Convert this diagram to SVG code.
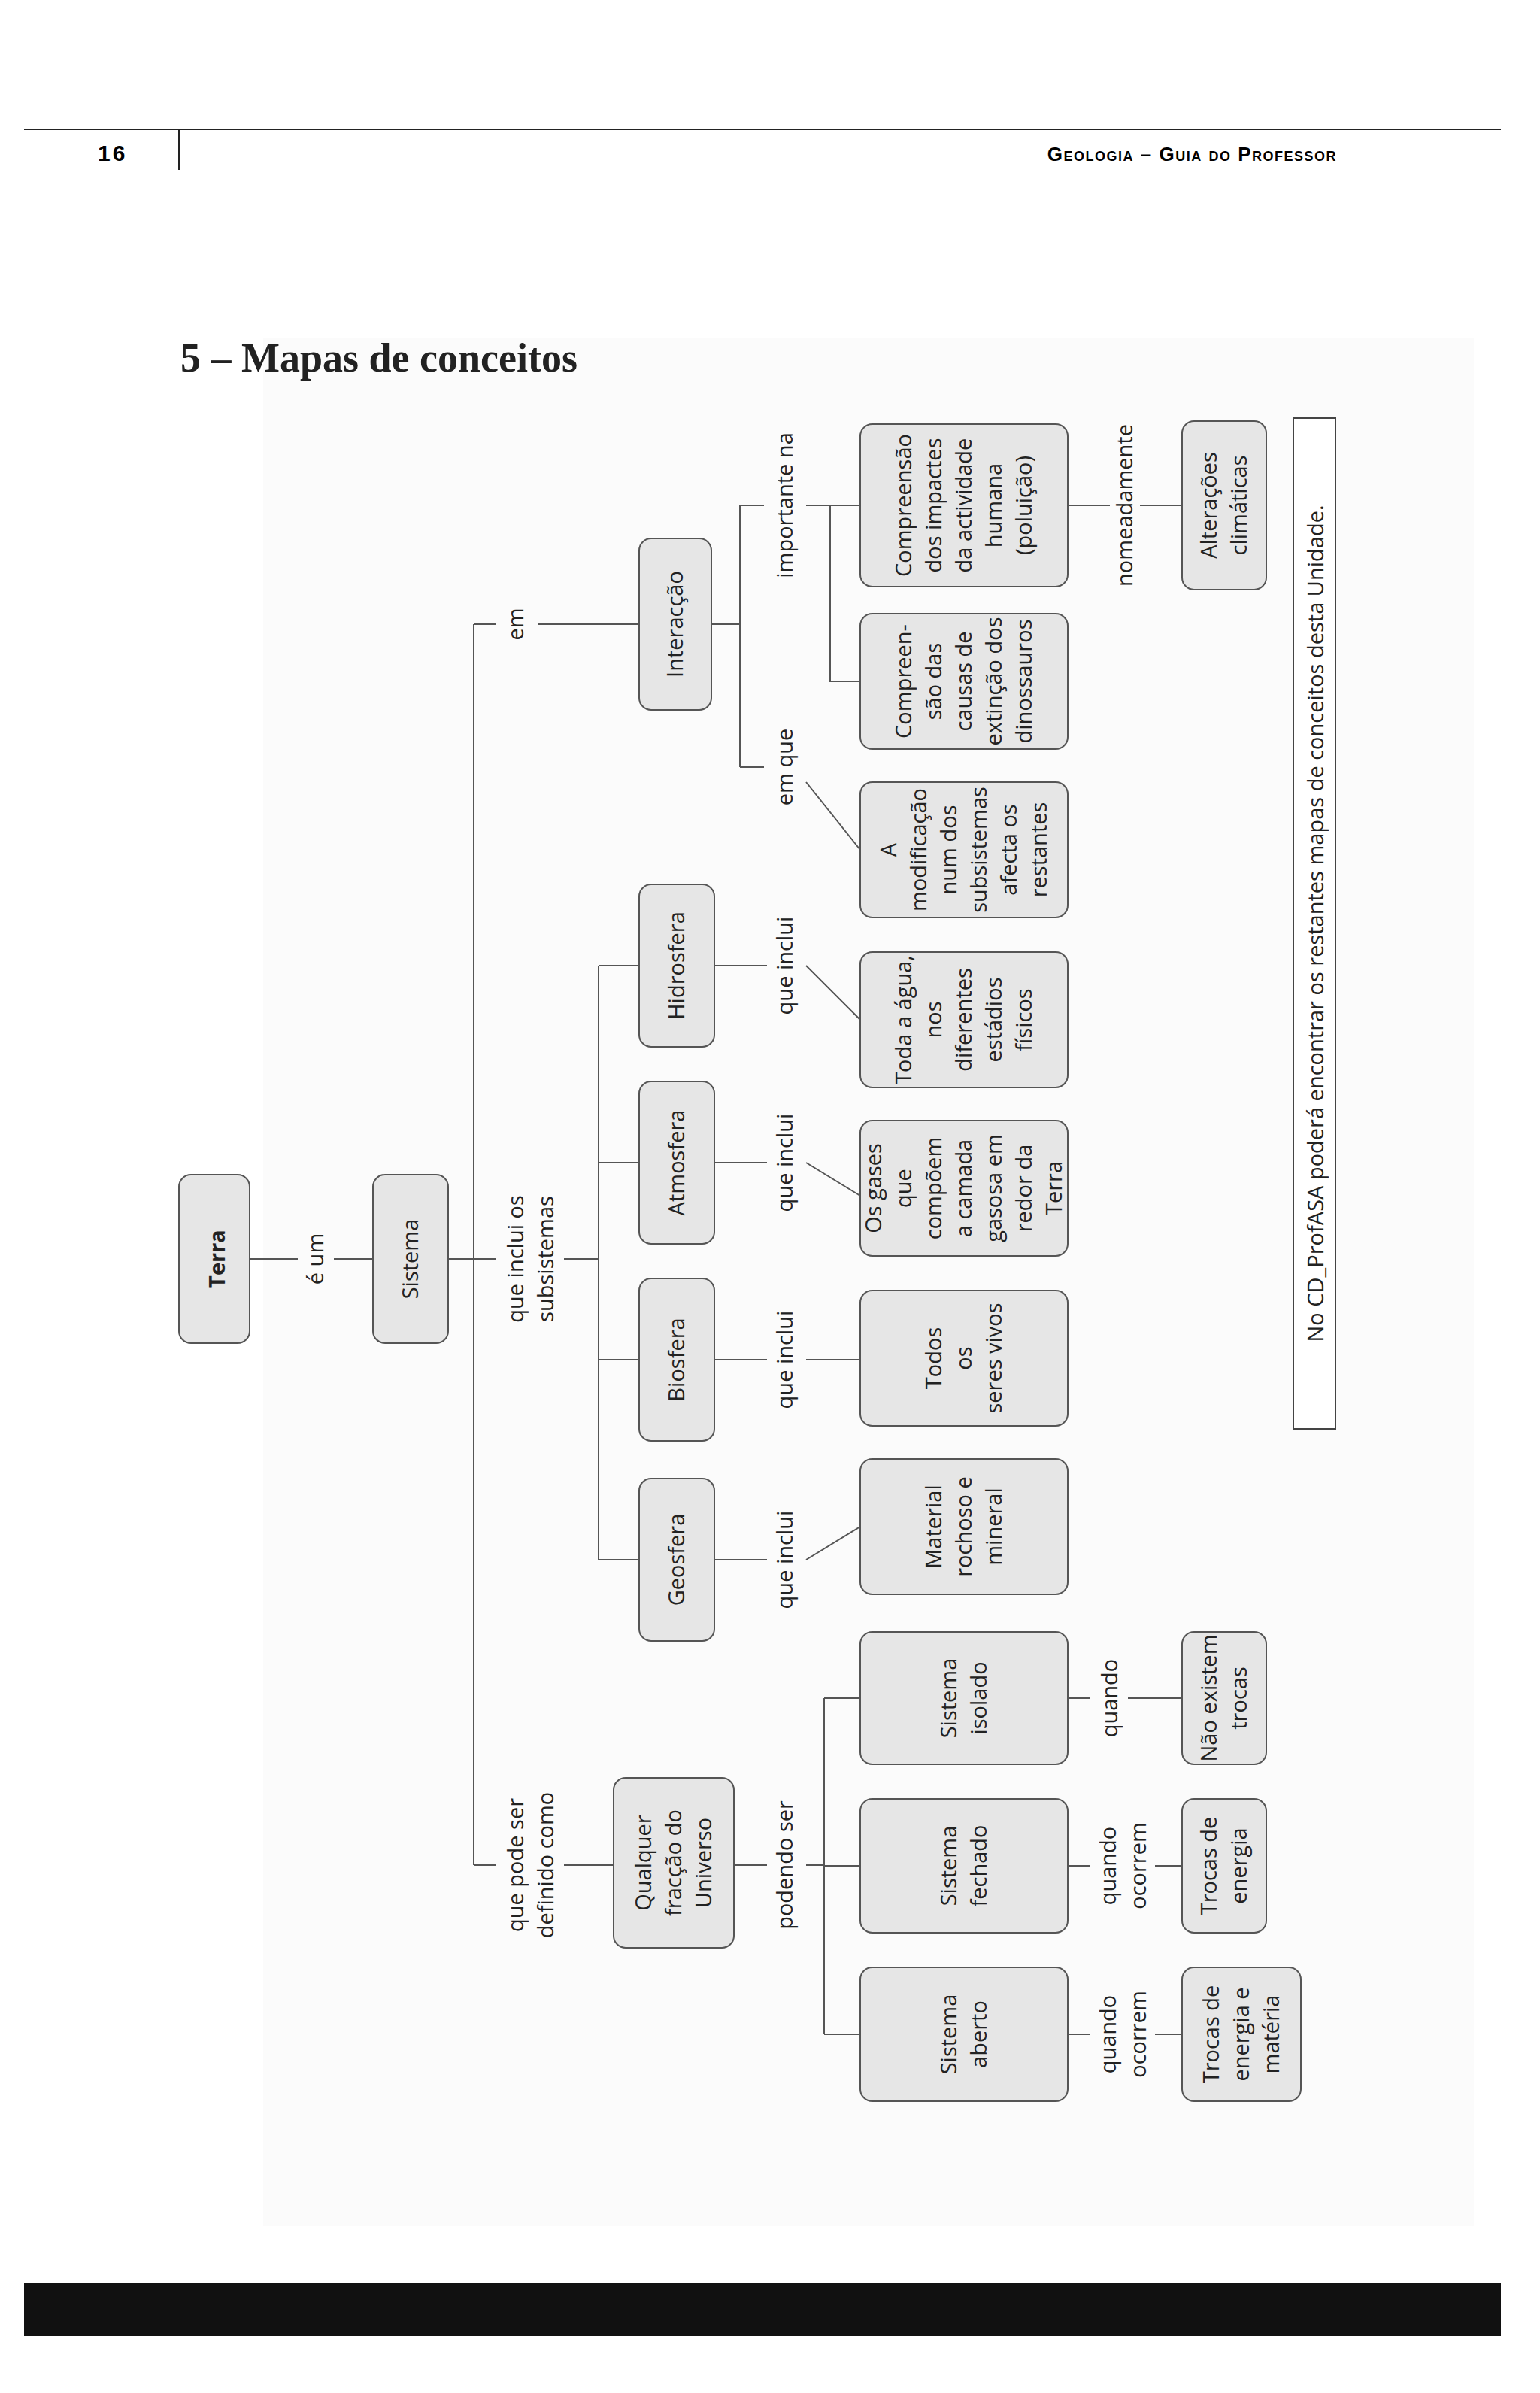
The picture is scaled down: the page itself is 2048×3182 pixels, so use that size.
<svg xmlns="http://www.w3.org/2000/svg" width="2048" height="3182" viewBox="0 0 2048 3182">
<style>
.b{fill:#e6e6e6;stroke:#555;stroke-width:2}
.t{font-family:"Open Sans","Liberation Sans",sans-serif;font-size:29px;fill:#222;text-anchor:middle}
.c{fill:none;stroke:#555;stroke-width:2}
</style>
<rect width="2048" height="3182" fill="#fff"/>
<rect x="350" y="450" width="1610" height="2510" fill="#fbfbfb"/>
<line x1="32" y1="172" x2="1996" y2="172" stroke="#222" stroke-width="2"/>
<line x1="238" y1="172" x2="238" y2="226" stroke="#222" stroke-width="2"/>
<text x="130" y="214" font-family="Liberation Sans,sans-serif" font-weight="bold" font-size="30" letter-spacing="3">16</text>
<text x="1778" y="214" text-anchor="end" font-family="Liberation Sans,sans-serif" font-weight="bold" font-size="26" font-variant="small-caps" letter-spacing="1.5">Geologia – Guia do Professor</text>
<text x="240" y="494" font-family="Liberation Serif,serif" font-weight="bold" font-size="54" fill="#222">5 – Mapas de conceitos</text>
<rect x="32" y="3036" width="1964" height="70" fill="#111"/>

<g id="connectors" class="c">
<path d="M332 1674H396M444 1674H496M596 1674H660M630 830V2480M630 830H660M716 830H850M630 2480H660M750 2480H816M750 1674H796M796 1284V2074M796 2074H850M796 1808H850M796 1546H850M796 1284H850"/>
<path d="M950 2074H1020M1072 2074L1144 2030M950 1808H1020M1072 1808H1144M950 1546H1020M1072 1546L1144 1590M950 1284H1020M1072 1284L1144 1356"/>
<path d="M946 830H984M984 672V1020M984 672H1016M984 1020H1016M1072 672H1144M1104 672V906H1144M1072 1040L1144 1130M1420 672H1476M1516 672H1572"/>
<path d="M976 2480H1020M1072 2480H1096M1096 2258V2705M1096 2258H1144M1096 2481H1144M1096 2705H1144M1420 2258H1450M1500 2258H1572M1420 2481H1450M1536 2481H1572M1420 2705H1450M1536 2705H1572"/>
</g>

<g id="labels" class="t">
<text transform="translate(420,1674) rotate(-90)" y="10">é um</text>
<text transform="translate(686,830) rotate(-90)" y="10">em</text>
<text transform="translate(706,1674) rotate(-90)"><tspan x="0" y="-10">que inclui os</tspan><tspan x="0" y="30">subsistemas</tspan></text>
<text transform="translate(706,2480) rotate(-90)"><tspan x="0" y="-10">que pode ser</tspan><tspan x="0" y="30">definido como</tspan></text>
<text transform="translate(1044,2074) rotate(-90)" y="10">que inclui</text>
<text transform="translate(1044,1808) rotate(-90)" y="10">que inclui</text>
<text transform="translate(1044,1546) rotate(-90)" y="10">que inclui</text>
<text transform="translate(1044,1284) rotate(-90)" y="10">que inclui</text>
<text transform="translate(1044,672) rotate(-90)" y="10">importante na</text>
<text transform="translate(1044,1020) rotate(-90)" y="10">em que</text>
<text transform="translate(1496,672) rotate(-90)" y="10">nomeadamente</text>
<text transform="translate(1044,2480) rotate(-90)" y="10">podendo ser</text>
<text transform="translate(1476,2258) rotate(-90)" y="10">quando</text>
<text transform="translate(1494,2481) rotate(-90)"><tspan x="0" y="-10">quando</tspan><tspan x="0" y="30">ocorrem</tspan></text>
<text transform="translate(1494,2705) rotate(-90)"><tspan x="0" y="-10">quando</tspan><tspan x="0" y="30">ocorrem</tspan></text>
</g>

<g id="terra"><rect class="b" x="238" y="1562" width="94" height="224" rx="16"/><text class="t" transform="translate(285,1674) rotate(-90)" y="14" font-size="40" font-weight="bold">Terra</text></g>
<g id="sistema"><rect class="b" x="496" y="1562" width="100" height="224" rx="16"/><text class="t" transform="translate(546,1674) rotate(-90)" y="10">Sistema</text></g>
<g id="interaccao"><rect class="b" x="850" y="716" width="96" height="228" rx="16"/><text class="t" transform="translate(898,830) rotate(-90)" y="10">Interacção</text></g>
<g id="hidrosfera"><rect class="b" x="850" y="1176" width="100" height="216" rx="16"/><text class="t" transform="translate(900,1284) rotate(-90)" y="10">Hidrosfera</text></g>
<g id="atmosfera"><rect class="b" x="850" y="1438" width="100" height="216" rx="16"/><text class="t" transform="translate(900,1546) rotate(-90)" y="10">Atmosfera</text></g>
<g id="biosfera"><rect class="b" x="850" y="1700" width="100" height="216" rx="16"/><text class="t" transform="translate(900,1808) rotate(-90)" y="10">Biosfera</text></g>
<g id="geosfera"><rect class="b" x="850" y="1966" width="100" height="216" rx="16"/><text class="t" transform="translate(900,2074) rotate(-90)" y="10">Geosfera</text></g>
<g id="qualquer"><rect class="b" x="816" y="2364" width="160" height="226" rx="16"/><text class="t" transform="translate(896,2477) rotate(-90)"><tspan x="0" y="-30">Qualquer</tspan><tspan x="0" y="10">fracção do</tspan><tspan x="0" y="50">Universo</tspan></text></g>

<g id="impactes"><rect class="b" x="1144" y="564" width="276" height="216" rx="16"/><text class="t" transform="translate(1282,672) rotate(-90)"><tspan x="0" y="-70">Compreensão</tspan><tspan x="0" y="-30">dos impactes</tspan><tspan x="0" y="10">da actividade</tspan><tspan x="0" y="50">humana</tspan><tspan x="0" y="90">(poluição)</tspan></text></g>
<g id="causas"><rect class="b" x="1144" y="816" width="276" height="180" rx="16"/><text class="t" transform="translate(1282,906) rotate(-90)"><tspan x="0" y="-70">Compreen-</tspan><tspan x="0" y="-30">são das</tspan><tspan x="0" y="10">causas de</tspan><tspan x="0" y="50">extinção dos</tspan><tspan x="0" y="90">dinossauros</tspan></text></g>
<g id="modificacao"><rect class="b" x="1144" y="1040" width="276" height="180" rx="16"/><text class="t" transform="translate(1282,1130) rotate(-90)"><tspan x="0" y="-90">A</tspan><tspan x="0" y="-50">modificação</tspan><tspan x="0" y="-10">num dos</tspan><tspan x="0" y="30">subsistemas</tspan><tspan x="0" y="70">afecta os</tspan><tspan x="0" y="110">restantes</tspan></text></g>
<g id="agua"><rect class="b" x="1144" y="1266" width="276" height="180" rx="16"/><text class="t" transform="translate(1282,1356) rotate(-90)"><tspan x="0" y="-70">Toda a água,</tspan><tspan x="0" y="-30">nos</tspan><tspan x="0" y="10">diferentes</tspan><tspan x="0" y="50">estádios</tspan><tspan x="0" y="90">físicos</tspan></text></g>
<g id="gases"><rect class="b" x="1144" y="1490" width="276" height="180" rx="16"/><text class="t" transform="translate(1282,1580) rotate(-90)"><tspan x="0" y="-110">Os gases</tspan><tspan x="0" y="-70">que</tspan><tspan x="0" y="-30">compõem</tspan><tspan x="0" y="10">a camada</tspan><tspan x="0" y="50">gasosa em</tspan><tspan x="0" y="90">redor da</tspan><tspan x="0" y="130">Terra</tspan></text></g>
<g id="todos"><rect class="b" x="1144" y="1716" width="276" height="180" rx="16"/><text class="t" transform="translate(1282,1806) rotate(-90)"><tspan x="0" y="-30">Todos</tspan><tspan x="0" y="10">os</tspan><tspan x="0" y="50">seres vivos</tspan></text></g>
<g id="material"><rect class="b" x="1144" y="1940" width="276" height="180" rx="16"/><text class="t" transform="translate(1282,2030) rotate(-90)"><tspan x="0" y="-30">Material</tspan><tspan x="0" y="10">rochoso e</tspan><tspan x="0" y="50">mineral</tspan></text></g>
<g id="isolado"><rect class="b" x="1144" y="2170" width="276" height="176" rx="16"/><text class="t" transform="translate(1282,2258) rotate(-90)"><tspan x="0" y="-10">Sistema</tspan><tspan x="0" y="30">isolado</tspan></text></g>
<g id="fechado"><rect class="b" x="1144" y="2392" width="276" height="178" rx="16"/><text class="t" transform="translate(1282,2481) rotate(-90)"><tspan x="0" y="-10">Sistema</tspan><tspan x="0" y="30">fechado</tspan></text></g>
<g id="aberto"><rect class="b" x="1144" y="2616" width="276" height="178" rx="16"/><text class="t" transform="translate(1282,2705) rotate(-90)"><tspan x="0" y="-10">Sistema</tspan><tspan x="0" y="30">aberto</tspan></text></g>

<g id="alteracoes"><rect class="b" x="1572" y="560" width="112" height="224" rx="16"/><text class="t" transform="translate(1628,672) rotate(-90)"><tspan x="0" y="-10">Alterações</tspan><tspan x="0" y="30">climáticas</tspan></text></g>
<g id="naoexistem"><rect class="b" x="1572" y="2170" width="112" height="176" rx="16"/><text class="t" transform="translate(1628,2258) rotate(-90)"><tspan x="0" y="-10">Não existem</tspan><tspan x="0" y="30">trocas</tspan></text></g>
<g id="trocasenergia"><rect class="b" x="1572" y="2392" width="112" height="178" rx="16"/><text class="t" transform="translate(1628,2481) rotate(-90)"><tspan x="0" y="-10">Trocas de</tspan><tspan x="0" y="30">energia</tspan></text></g>
<g id="trocasmateria"><rect class="b" x="1572" y="2616" width="158" height="178" rx="16"/><text class="t" transform="translate(1651,2705) rotate(-90)"><tspan x="0" y="-30">Trocas de</tspan><tspan x="0" y="10">energia e</tspan><tspan x="0" y="50">matéria</tspan></text></g>

<g id="nota"><rect x="1720" y="556" width="56" height="1344" fill="#fff" stroke="#444" stroke-width="2"/><text class="t" transform="translate(1748,1228) rotate(-90)" y="12" font-size="34">No CD_ProfASA poderá encontrar os restantes mapas de conceitos desta Unidade.</text></g>
</svg>
